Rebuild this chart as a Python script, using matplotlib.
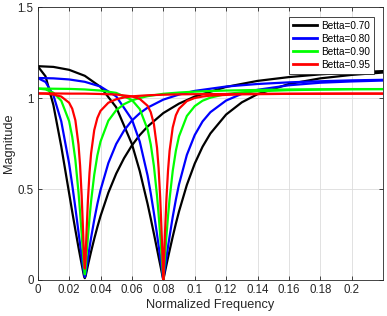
import matplotlib
matplotlib.use("Agg")
import matplotlib.pyplot as plt

# Frequency samples (normalized frequency) for the notch at 0.03 and the notch at 0.08
freq_a = [0, 0.005, 0.01, 0.015, 0.02, 0.022, 0.024, 0.026, 0.027, 0.028, 0.029, 0.0295,
          0.03, 0.0305, 0.031, 0.032, 0.033, 0.034, 0.036, 0.038, 0.04, 0.045, 0.05, 0.055,
          0.06, 0.065, 0.07, 0.08, 0.09, 0.1, 0.12, 0.14, 0.16, 0.18, 0.2, 0.22]
freq_b = [0, 0.01, 0.02, 0.03, 0.04, 0.05, 0.06, 0.065, 0.07, 0.072, 0.074, 0.076, 0.077,
          0.078, 0.079, 0.0795, 0.08, 0.0805, 0.081, 0.082, 0.083, 0.084, 0.086, 0.088,
          0.09, 0.095, 0.1, 0.105, 0.11, 0.12, 0.13, 0.14, 0.16, 0.18, 0.2, 0.22]

# Magnitudes, notch at 0.03
mag_a_070 = [1.176, 1.120, 0.962, 0.735, 0.478, 0.375, 0.275, 0.178, 0.132, 0.087, 0.043, 0.021,
             0.010, 0.021, 0.041, 0.081, 0.119, 0.156, 0.226, 0.291, 0.351, 0.480, 0.585, 0.670,
             0.740, 0.797, 0.844, 0.918, 0.970, 1.009, 1.062, 1.095, 1.116, 1.131, 1.142, 1.149]
mag_a_080 = [1.111, 1.089, 1.016, 0.873, 0.641, 0.523, 0.396, 0.263, 0.196, 0.129, 0.064, 0.032,
             0.016, 0.031, 0.062, 0.121, 0.178, 0.232, 0.330, 0.418, 0.494, 0.643, 0.748, 0.822,
             0.877, 0.917, 0.948, 0.992, 1.020, 1.040, 1.064, 1.078, 1.087, 1.093, 1.098, 1.101]
mag_a_090 = [1.053, 1.048, 1.030, 0.986, 0.874, 0.787, 0.660, 0.481, 0.372, 0.253, 0.127, 0.063,
             0.031, 0.062, 0.123, 0.237, 0.341, 0.432, 0.578, 0.685, 0.761, 0.876, 0.934, 0.967,
             0.988, 1.001, 1.011, 1.024, 1.031, 1.036, 1.042, 1.045, 1.048, 1.049, 1.050, 1.050]
mag_a_095 = [1.026, 1.025, 1.020, 1.009, 0.975, 0.942, 0.878, 0.744, 0.629, 0.464, 0.248, 0.126,
             0.063, 0.124, 0.241, 0.440, 0.589, 0.696, 0.824, 0.891, 0.930, 0.975, 0.994, 1.004,
             1.010, 1.013, 1.016, 1.019, 1.021, 1.022, 1.023, 1.024, 1.024, 1.025, 1.025, 1.025]

# Magnitudes, notch at 0.08
mag_b_070 = [1.176, 1.172, 1.156, 1.123, 1.062, 0.950, 0.748, 0.599, 0.418, 0.338, 0.255, 0.170,
             0.127, 0.085, 0.042, 0.021, 0.0, 0.021, 0.042, 0.083, 0.123, 0.162, 0.238, 0.310,
             0.377, 0.523, 0.640, 0.733, 0.806, 0.910, 0.977, 1.022, 1.078, 1.109, 1.128, 1.141]
mag_b_080 = [1.111, 1.109, 1.103, 1.090, 1.064, 1.010, 0.883, 0.761, 0.574, 0.477, 0.369, 0.251,
             0.189, 0.126, 0.063, 0.032, 0.0, 0.031, 0.062, 0.124, 0.183, 0.240, 0.347, 0.442,
             0.526, 0.688, 0.797, 0.872, 0.923, 0.987, 1.024, 1.046, 1.071, 1.085, 1.092, 1.097]
mag_b_090 = [1.053, 1.052, 1.051, 1.048, 1.042, 1.029, 0.990, 0.940, 0.828, 0.746, 0.628, 0.463,
             0.361, 0.247, 0.126, 0.063, 0.0, 0.063, 0.124, 0.242, 0.350, 0.446, 0.600, 0.711,
             0.790, 0.902, 0.956, 0.986, 1.003, 1.023, 1.032, 1.038, 1.044, 1.047, 1.049, 1.050]
mag_b_095 = [1.026, 1.026, 1.025, 1.025, 1.023, 1.020, 1.010, 0.996, 0.958, 0.923, 0.858, 0.727,
             0.615, 0.456, 0.245, 0.125, 0.0, 0.124, 0.243, 0.447, 0.601, 0.710, 0.839, 0.906,
             0.942, 0.984, 1.001, 1.009, 1.014, 1.018, 1.021, 1.022, 1.024, 1.024, 1.025, 1.025]

labels = ["Betta=0.70", "Betta=0.80", "Betta=0.90", "Betta=0.95"]
colors = ["#000000", "#0000ff", "#00ff00", "#ff0000"]
series_a = [mag_a_070, mag_a_080, mag_a_090, mag_a_095]
series_b = [mag_b_070, mag_b_080, mag_b_090, mag_b_095]

xticks = [0, 0.02, 0.04, 0.06, 0.08, 0.1, 0.12, 0.14, 0.16, 0.18, 0.2]
xticklabels = ["0", "0.02", "0.04", "0.06", "0.08", "0.1", "0.12", "0.14", "0.16", "0.18", "0.2"]
yticks = [0, 0.5, 1, 1.5]
yticklabels = ["0", "0.5", "1", "1.5"]

plt.rcParams['font.family'] = ['Liberation Sans', 'DejaVu Sans']

fig = plt.figure(figsize=(3.87, 3.16), dpi=100)
ax = fig.add_axes([0.0974, 0.114, 0.8926, 0.863])

handles = []
for ya, yb, c, lab in zip(series_a, series_b, colors, labels):
    h, = ax.plot(freq_a, ya, color=c, lw=1.6, label=lab, solid_joinstyle='round')
    ax.plot(freq_b, yb, color=c, lw=1.6, solid_joinstyle='round')
    handles.append(h)

ax.set_xlim(0, 0.22)
ax.set_ylim(0, 1.5)
ax.set_xticks(xticks)
ax.set_xticklabels(xticklabels)
ax.set_yticks(yticks)
ax.set_yticklabels(yticklabels)
ax.grid(True, color='#dcdcdc', lw=0.6)
ax.set_axisbelow(True)
ax.tick_params(direction='in', length=3, width=0.6, colors='#262626', labelsize=8.3,
               top=True, right=True, pad=3)
for sp in ax.spines.values():
    sp.set_color('#262626')
    sp.set_linewidth(0.6)

ax.set_xlabel("Normalized Frequency", fontsize=9.2, color='#262626', labelpad=2)
ax.set_ylabel("Magnitude", fontsize=9.2, color='#262626', labelpad=2)

leg = ax.legend(handles=handles, loc='upper right', fontsize=7.2, frameon=True, fancybox=False,
                edgecolor='#262626', framealpha=1, borderpad=0.4, labelspacing=0.3,
                handlelength=2.4, handletextpad=0.35, borderaxespad=0.95)
leg.get_frame().set_linewidth(0.6)
for line in leg.get_lines():
    line.set_linewidth(2.0)

fig.savefig("out.png", dpi=100)
